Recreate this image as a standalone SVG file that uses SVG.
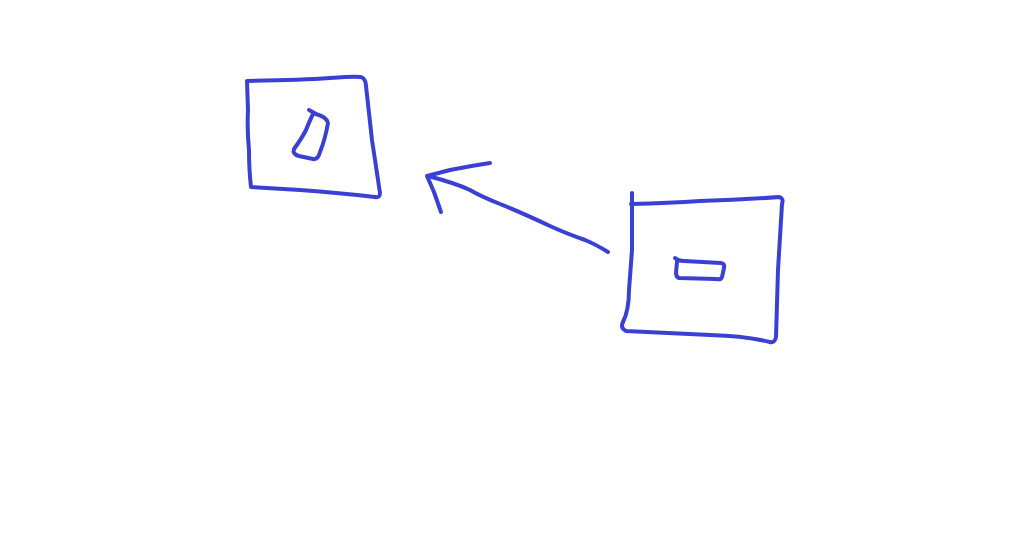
<svg xmlns="http://www.w3.org/2000/svg" width="1024" height="540" viewBox="0 0 1024 540">
<style>
.ink{fill:none;stroke:#3a40d4;stroke-width:4;stroke-linecap:round;stroke-linejoin:round}
</style>
<rect width="1024" height="540" fill="#ffffff"/>
<g id="node-left">
<path class="ink" d="M247,81 Q300,80 330,78 Q355,76 361,77 Q366,79 366,86 L372,140 L380,193 Q380,198 375,197 Q340,193 300,190 L251,187 Q249,170 249,150 Q247,130 248,110 L247,81"/>
<path class="ink" d="M309,110 Q313,112 316,114 Q327,117 328,123 Q325,140 320,152 Q318,160 313,159 L299,156 Q292,154 294,149 Q302,138 306,130 Q310,120 313,114"/>
</g>
<g id="node-right">
<path class="ink" d="M632,193 L632,206"/>
<path class="ink" d="M631,204 Q670,203 700,201 Q740,200 779,197 Q784,198 782,204 L778,270 L776,337 Q775,343 770,342 Q745,336 710,335 Q670,333 626,331 Q620,328 623,322 Q629,310 629,290 L632,250 L632,205"/>
<path class="ink" d="M675,258 Q678,261 684,261 L721,263 Q725,264 724,268 L722,277 Q721,280 716,279 L679,278 Q676,277 676,273 L677,262"/>
</g>
<g id="connectors">
<path class="ink" d="M608,252 Q595,244 585,240 Q565,233 550,226 Q520,212 500,204 Q480,196 470,190 Q455,183 428,176"/>
<path class="ink" d="M490,163 Q470,166 450,170 L427,176 L434,192 L441,212"/>
</g>
</svg>
